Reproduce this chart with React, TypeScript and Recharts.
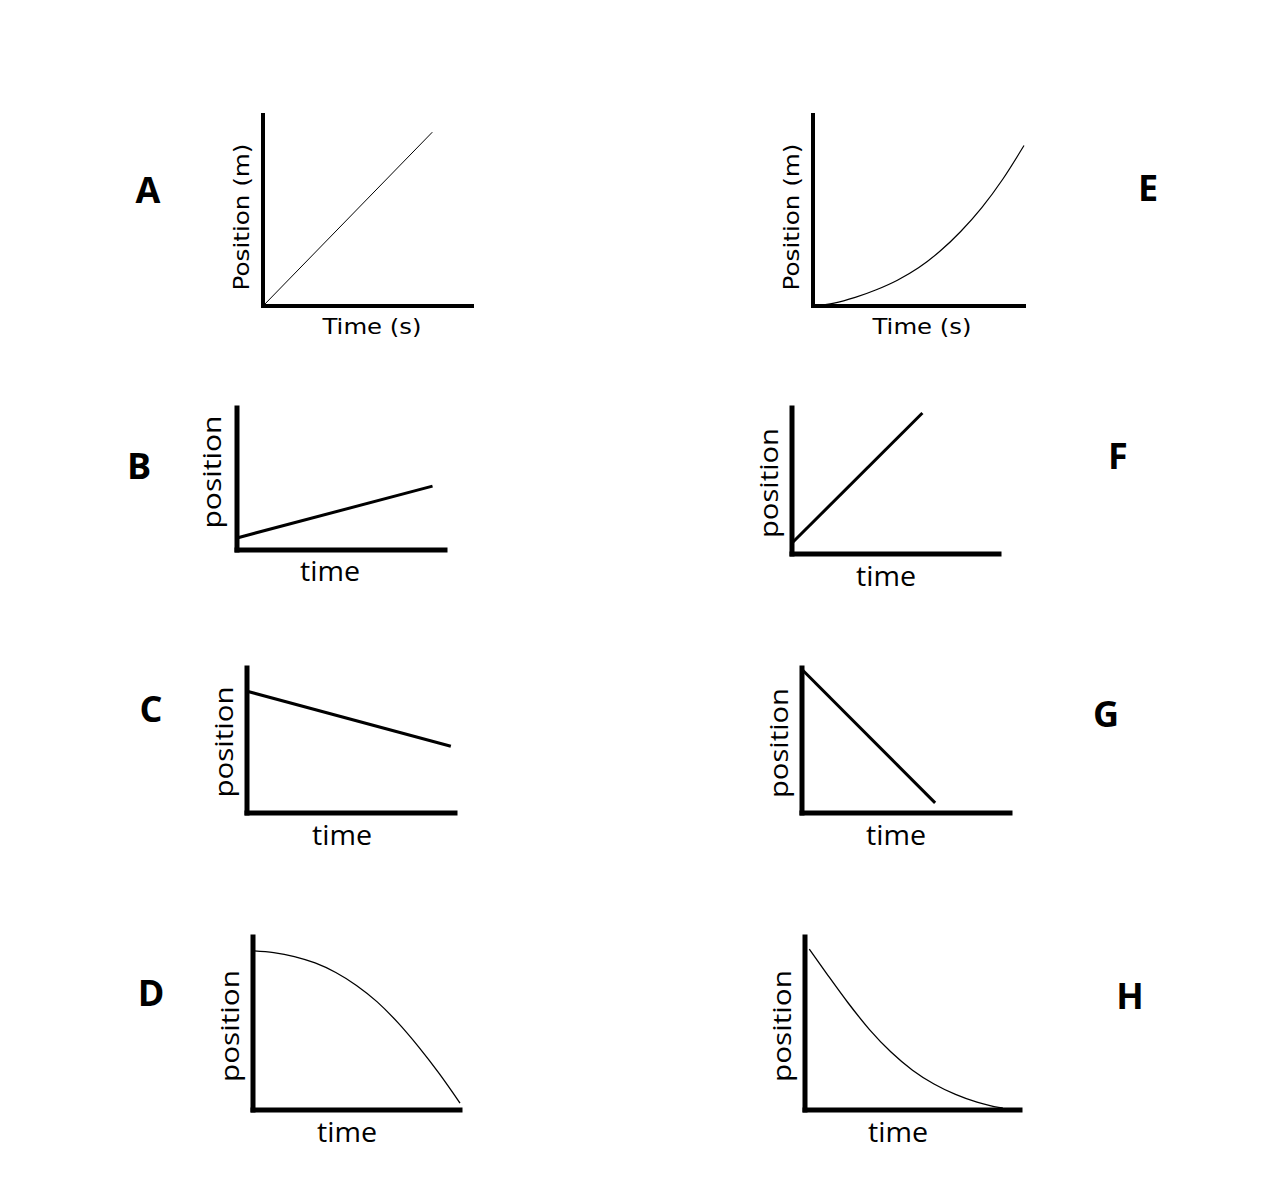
import { LineChart, Line, XAxis, YAxis } from 'recharts';

// time / position readings for each panel, on a 0–10 scale along each axis
const timeA = [0, 8.1];
const posA = [0, 9.1];

const timeB = [0, 9.4];
const posB = [0.85, 4.5];

const timeC = [0, 9.8];
const posC = [8.4, 4.6];

const timeD = [0, 1, 2, 3, 4, 5, 6, 7, 8, 9, 10];
const posD = [9.2, 9.1, 8.87, 8.5, 7.95, 7.2, 6.25, 5.05, 3.65, 2.1, 0.4];

const timeE = [0, 1, 2, 3, 4, 5, 6, 7, 8, 9, 10];
const posE = [0, 0.15, 0.45, 0.85, 1.35, 2.0, 2.85, 3.9, 5.15, 6.65, 8.4];

const timeF = [0, 6.3];
const posF = [0.75, 9.66];

const timeG = [0, 6.4];
const posG = [9.9, 0.7];

const timeH = [0.2, 1, 2, 3, 4, 5, 6, 7, 8, 9, 9.2];
const posH = [9.3, 7.9, 6.2, 4.65, 3.35, 2.3, 1.5, 0.9, 0.45, 0.15, 0.12];

const toRows = (t: number[], p: number[]) => t.map((v, i) => ({ t: v, p: p[i] }));

const PAD_L = 150;
const PAD_R = 150;
const PAD_T = 20;
const PAD_B = 45;

interface Box {
  x0: number;
  x1: number;
  y0: number;
  yTop: number;
}

interface PanelProps {
  rows: Array<{ t: number; p: number }>;
  box: Box;
  axisWidth: number;
  lineWidth: number;
  curve: 'linear' | 'monotone';
  letter: string;
  letterAt: [number, number];
  xLabel: string;
  xLabelAt: [number, number];
  xLabelLen: number;
  xLabelSize: number;
  yLabel: string;
  yLabelAt: [number, number];
  yLabelLen: number;
  yLabelSize: number;
  labelFont: string;
}

function Panel(props: PanelProps) {
  const { rows, box, axisWidth, lineWidth, curve } = props;
  const ox = box.x0 - PAD_L;
  const oy = box.yTop - PAD_T;
  const w = PAD_L + (box.x1 - box.x0) + PAD_R;
  const h = PAD_T + (box.y0 - box.yTop) + PAD_B;
  const lx = (p: [number, number]) => p[0] - ox;
  const ly = (p: [number, number]) => p[1] - oy;
  const axisStyle = { stroke: '#000', strokeWidth: axisWidth, strokeLinecap: 'square' as const };

  return (
    <div style={{ position: 'absolute', left: ox, top: oy, width: w, height: h }}>
      <LineChart
        width={w}
        height={h}
        data={rows}
        margin={{ top: PAD_T, right: PAD_R, bottom: PAD_B - 1, left: PAD_L - 1 }}
      >
        <XAxis
          type="number"
          dataKey="t"
          domain={[0, 10]}
          height={1}
          tick={false}
          tickLine={false}
          axisLine={axisStyle}
        />
        <YAxis type="number" domain={[0, 10]} width={1} tick={false} tickLine={false} axisLine={axisStyle} />
        <Line
          type={curve}
          dataKey="p"
          stroke="#000"
          strokeWidth={lineWidth}
          dot={false}
          activeDot={false}
          isAnimationActive={false}
        />
        <text
          x={lx(props.letterAt)}
          y={ly(props.letterAt)}
          textAnchor="middle"
          dominantBaseline="central"
          fontFamily="'Open Sans', sans-serif"
          fontWeight={700}
          fontSize={36}
          fill="#000"
        >
          {props.letter}
        </text>
        <text
          x={lx(props.xLabelAt)}
          y={ly(props.xLabelAt)}
          textAnchor="middle"
          dominantBaseline="central"
          fontFamily={props.labelFont}
          fontSize={props.xLabelSize}
          textLength={props.xLabelLen}
          lengthAdjust="spacingAndGlyphs"
          fill="#000"
        >
          {props.xLabel}
        </text>
        <text
          x={lx(props.yLabelAt)}
          y={ly(props.yLabelAt)}
          transform={`rotate(-90 ${lx(props.yLabelAt)} ${ly(props.yLabelAt)})`}
          textAnchor="middle"
          dominantBaseline="central"
          fontFamily={props.labelFont}
          fontSize={props.yLabelSize}
          textLength={props.yLabelLen}
          lengthAdjust="spacingAndGlyphs"
          fill="#000"
        >
          {props.yLabel}
        </text>
      </LineChart>
    </div>
  );
}

const PIXEL_FONT = "'DejaVu Sans', sans-serif";
const SANS_FONT = "'Open Sans', sans-serif";

export default function App() {
  return (
    <div
      style={{
        position: 'absolute',
        left: 0,
        top: 0,
        width: 1284,
        height: 1198,
        background: '#fff',
        overflow: 'hidden',
      }}
    >
      <Panel
        rows={toRows(timeA, posA)}
        box={{ x0: 263, x1: 472, y0: 306, yTop: 115 }}
        axisWidth={4}
        lineWidth={1}
        curve="linear"
        letter="A"
        letterAt={[148, 189]}
        xLabel="Time (s)"
        xLabelAt={[372, 327]}
        xLabelLen={99}
        xLabelSize={21}
        yLabel="Position (m)"
        yLabelAt={[242, 217]}
        yLabelLen={147}
        yLabelSize={21}
        labelFont={PIXEL_FONT}
      />
      <Panel
        rows={toRows(timeE, posE)}
        box={{ x0: 813, x1: 1024, y0: 306, yTop: 115 }}
        axisWidth={4}
        lineWidth={1.2}
        curve="monotone"
        letter="E"
        letterAt={[1148, 187]}
        xLabel="Time (s)"
        xLabelAt={[922, 327]}
        xLabelLen={99}
        xLabelSize={21}
        yLabel="Position (m)"
        yLabelAt={[792, 217]}
        yLabelLen={147}
        yLabelSize={21}
        labelFont={PIXEL_FONT}
      />
      <Panel
        rows={toRows(timeB, posB)}
        box={{ x0: 237, x1: 445, y0: 550, yTop: 408 }}
        axisWidth={5}
        lineWidth={3}
        curve="linear"
        letter="B"
        letterAt={[139, 465]}
        xLabel="time"
        xLabelAt={[330, 570]}
        xLabelLen={60}
        xLabelSize={28}
        yLabel="position"
        yLabelAt={[211, 472]}
        yLabelLen={113}
        yLabelSize={26}
        labelFont={SANS_FONT}
      />
      <Panel
        rows={toRows(timeF, posF)}
        box={{ x0: 792, x1: 999, y0: 554, yTop: 408 }}
        axisWidth={5}
        lineWidth={3}
        curve="linear"
        letter="F"
        letterAt={[1118, 455]}
        xLabel="time"
        xLabelAt={[886, 575]}
        xLabelLen={60}
        xLabelSize={28}
        yLabel="position"
        yLabelAt={[768, 483]}
        yLabelLen={110}
        yLabelSize={26}
        labelFont={SANS_FONT}
      />
      <Panel
        rows={toRows(timeC, posC)}
        box={{ x0: 247, x1: 455, y0: 813, yTop: 668 }}
        axisWidth={5}
        lineWidth={3}
        curve="linear"
        letter="C"
        letterAt={[151, 708]}
        xLabel="time"
        xLabelAt={[342, 834]}
        xLabelLen={60}
        xLabelSize={28}
        yLabel="position"
        yLabelAt={[223, 742]}
        yLabelLen={111}
        yLabelSize={26}
        labelFont={SANS_FONT}
      />
      <Panel
        rows={toRows(timeG, posG)}
        box={{ x0: 802, x1: 1010, y0: 813, yTop: 668 }}
        axisWidth={5}
        lineWidth={3}
        curve="linear"
        letter="G"
        letterAt={[1106, 713]}
        xLabel="time"
        xLabelAt={[896, 834]}
        xLabelLen={60}
        xLabelSize={28}
        yLabel="position"
        yLabelAt={[778, 743]}
        yLabelLen={110}
        yLabelSize={26}
        labelFont={SANS_FONT}
      />
      <Panel
        rows={toRows(timeD, posD)}
        box={{ x0: 253, x1: 460, y0: 1110, yTop: 937 }}
        axisWidth={5}
        lineWidth={1.3}
        curve="monotone"
        letter="D"
        letterAt={[151, 992]}
        xLabel="time"
        xLabelAt={[347, 1131]}
        xLabelLen={60}
        xLabelSize={28}
        yLabel="position"
        yLabelAt={[229, 1026]}
        yLabelLen={112}
        yLabelSize={26}
        labelFont={SANS_FONT}
      />
      <Panel
        rows={toRows(timeH, posH)}
        box={{ x0: 805, x1: 1020, y0: 1110, yTop: 937 }}
        axisWidth={5}
        lineWidth={1.3}
        curve="monotone"
        letter="H"
        letterAt={[1130, 995]}
        xLabel="time"
        xLabelAt={[898, 1131]}
        xLabelLen={60}
        xLabelSize={28}
        yLabel="position"
        yLabelAt={[781, 1026]}
        yLabelLen={112}
        yLabelSize={26}
        labelFont={SANS_FONT}
      />
    </div>
  );
}
